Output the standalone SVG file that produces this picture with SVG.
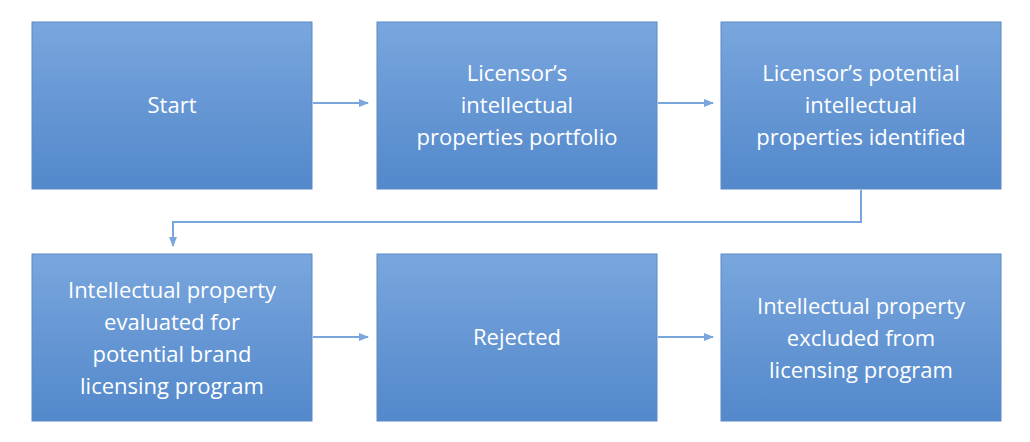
<svg xmlns="http://www.w3.org/2000/svg" width="1030" height="442" viewBox="0 0 1030 442">
<style>
.b{fill:url(#g);stroke:#5a8ac6;stroke-width:1}
.t{font-family:"Open Sans","Liberation Sans",sans-serif;font-size:22px;fill:#fff;text-anchor:middle}
.c{fill:none;stroke:#79a6dc;stroke-width:2}
</style>
<defs>
<linearGradient id="g" x1="0" y1="0" x2="0" y2="1"><stop offset="0" stop-color="#79a6dd"/><stop offset="1" stop-color="#5388cb"/></linearGradient>
<marker id="a" viewBox="0 0 10 10" refX="9" refY="5" markerWidth="5" markerHeight="5" orient="auto"><path d="M0,1 L10,5 L0,9 z" fill="#79a6dc"/></marker>
</defs>
<g id="n1"><rect class="b" x="32" y="22" width="280" height="167"/><text class="t" x="172" y="113">Start</text></g>
<g id="n2"><rect class="b" x="377" y="22" width="280" height="167"/><text class="t" x="517" y="81">Licensor’s<tspan x="517" dy="32">intellectual</tspan><tspan x="517" dy="32">properties portfolio</tspan></text></g>
<g id="n3"><rect class="b" x="721" y="22" width="280" height="167"/><text class="t" x="861" y="81">Licensor’s potential<tspan x="861" dy="32">intellectual</tspan><tspan x="861" dy="32">properties identified</tspan></text></g>
<g id="n4"><rect class="b" x="32" y="254" width="280" height="167"/><text class="t" x="172" y="298">Intellectual property<tspan x="172" dy="32">evaluated for</tspan><tspan x="172" dy="32">potential brand</tspan><tspan x="172" dy="32">licensing program</tspan></text></g>
<g id="n5"><rect class="b" x="377" y="254" width="280" height="167"/><text class="t" x="517" y="345">Rejected</text></g>
<g id="n6"><rect class="b" x="721" y="254" width="280" height="167"/><text class="t" x="861" y="314">Intellectual property<tspan x="861" dy="32">excluded from</tspan><tspan x="861" dy="32">licensing program</tspan></text></g>
<g id="connectors">
<path class="c" d="M313,103 H368" marker-end="url(#a)"/>
<path class="c" d="M658,103 H713" marker-end="url(#a)"/>
<path class="c" d="M861,190 V222 H173 V246" marker-end="url(#a)"/>
<path class="c" d="M313,337 H368" marker-end="url(#a)"/>
<path class="c" d="M658,337 H713" marker-end="url(#a)"/>
</g>
</svg>
